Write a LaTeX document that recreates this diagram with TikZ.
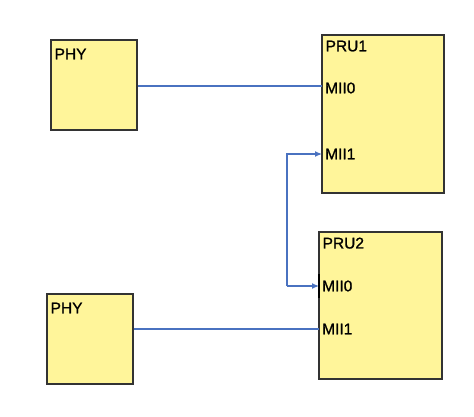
\documentclass[tikz,border=0pt]{standalone}
\usepackage{fontspec}
\setmainfont{Liberation Sans}
\newfontfamily\labelfont{Liberation Sans}[FakeBold=1.2]
\usetikzlibrary{arrows.meta}

\definecolor{boxfill}{HTML}{FFF59A}
\definecolor{boxline}{HTML}{333333}
\definecolor{wire}{HTML}{4A72C0}

\begin{document}
\begin{tikzpicture}[x=1pt, y=-1pt,
    every node/.style={font=\labelfont\fontsize{15.5}{18}\selectfont},
    block/.style={draw=boxline, fill=boxfill, line width=1.1pt, rectangle, inner sep=0pt},
    port/.style={anchor=west, inner sep=3pt},
    link/.style={draw=wire, line width=1.2pt},
    tip/.style={-{Latex[length=7pt, width=6pt]}}]
  \useasboundingbox (0, 0) rectangle (474, 416);
  % blocks
  \draw (94, 85)     node[block, minimum width=86pt, minimum height=90pt] (phyA) {};
  \draw (90, 339)    node[block, minimum width=86pt, minimum height=90pt] (phyB) {};
  \draw (383, 114)   node[block, minimum width=122pt, minimum height=158pt] (pruA) {};
  \draw (380.5, 305.5) node[block, minimum width=123pt, minimum height=147pt] (pruB) {};
  % titles
  \draw (phyA.north west) node[anchor=north west, inner sep=4pt, yshift=-5pt] (tphyA) {PHY};
  \draw (phyB.north west) node[anchor=north west, inner sep=4pt, yshift=-5pt] (tphyB) {PHY};
  \draw (pruA.north west) node[anchor=north west, inner sep=4pt, yshift=-2pt] (tpruA) {PRU1};
  \draw (pruB.north west) node[anchor=north west, inner sep=4pt, yshift=-2pt] (tpruB) {PRU2};
  % ports
  \draw (322, 88)  node[port] (m0a) {MII0};
  \draw (322, 154) node[port] (m1a) {MII1};
  \draw (319, 286) node[port] (m0b) {MII0};
  \draw (319, 329) node[port] (m1b) {MII1};
  % links
  \draw[link] (phyA.east |- 0, 86) -- (m0a.west |- 0, 86);
  \draw[link] (phyB.east |- m1b) -- (m1b.west);
  \draw[link, tip] (m0b.west) ++(-32, 0) |- (m1a.west);
  \draw[link, tip] (m0b.west) ++(-32, 0) -- (m0b.west);
  \draw[line width=1.8pt, color=black] ([yshift=-12pt]m0b.west) -- ([yshift=12pt]m0b.west);
\end{tikzpicture}
\end{document}
